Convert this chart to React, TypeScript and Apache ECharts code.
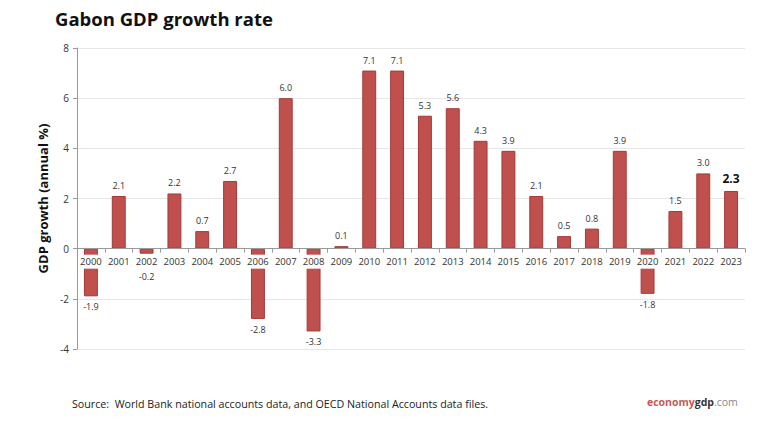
import React, { useEffect, useRef } from "react";
import * as echarts from "echarts";

const years = ["2000","2001","2002","2003","2004","2005","2006","2007","2008","2009","2010","2011","2012","2013","2014","2015","2016","2017","2018","2019","2020","2021","2022","2023"];
const growth = [-1.9, 2.1, -0.2, 2.2, 0.7, 2.7, -2.8, 6.0, -3.3, 0.1, 7.1, 7.1, 5.3, 5.6, 4.3, 3.9, 2.1, 0.5, 0.8, 3.9, -1.8, 1.5, 3.0, 2.3];
const yTicks = { min: -4, max: 8, interval: 2 };
const titleText = "Gabon GDP growth rate";
const yName = "GDP growth (annual %)";
const sourceText = "Source:  World Bank national accounts data, and OECD National Accounts data files.";

export default function App() {
  const ref = useRef<HTMLDivElement>(null);
  useEffect(() => {
    if (!ref.current) return;
    const chart = echarts.init(ref.current, null, { renderer: "svg" });
    const font = "'Open Sans', 'Liberation Sans', sans-serif";
    const gridTop = 48;
    const gridBottom = 73;
    const plotH = 422 - gridTop - gridBottom;
    const zeroOffset = (plotH * (0 - yTicks.min)) / (yTicks.max - yTicks.min);
    const data = growth.map((v, i) => {
      const last = i === growth.length - 1;
      const small = v < 0 && v > -0.5;
      return {
        value: v,
        label: {
          position: v < 0 ? "bottom" : "top",
          distance: small ? 18 : 6,
          fontSize: last ? 12 : 9,
          fontWeight: last ? "bold" : "normal",
          color: last ? "#111" : "#333",
        },
      };
    });
    chart.setOption({
      animation: false,
      backgroundColor: "#fff",
      textStyle: { fontFamily: font },
      grid: { left: 77, right: 23, top: gridTop, bottom: gridBottom },
      xAxis: {
        type: "category",
        data: years,
        z: 3,
        position: "bottom",
        offset: -zeroOffset,
        axisLine: { onZero: false, lineStyle: { color: "#999", width: 1 } },
        axisTick: { show: true, length: 4, interval: 0, lineStyle: { color: "#999" } },
        axisLabel: {
          interval: 0,
          color: "#333",
          fontSize: 9.5,
          fontFamily: font,
          margin: 6,
          backgroundColor: "#fff",
          padding: [2, 1, 2, 1],
        },
      },
      yAxis: {
        type: "value",
        min: yTicks.min,
        max: yTicks.max,
        interval: yTicks.interval,
        name: yName,
        nameLocation: "middle",
        nameGap: 28,
        nameTextStyle: { fontSize: 13, fontWeight: "bold", color: "#111", fontFamily: font },
        axisLine: { show: true, lineStyle: { color: "#999" } },
        axisTick: { show: true, length: 4, lineStyle: { color: "#999" } },
        axisLabel: { color: "#333", fontSize: 10, margin: 8 },
        splitLine: { lineStyle: { color: "#e6e6e6" } },
      },
      series: [
        {
          type: "bar",
          data,
          barWidth: "50%",
          itemStyle: { color: "#c0504d", borderColor: "#a33a37", borderWidth: 1 },
          label: {
            show: true,
            formatter: (p: any) => Number(p.value).toFixed(1),
          },
        },
      ],
      graphic: [
        {
          type: "text",
          left: 55,
          top: 9,
          style: { text: titleText, fontSize: 18.5, fontWeight: "bold", fill: "#111", fontFamily: font },
        },
        {
          type: "text",
          left: 72,
          top: 398,
          style: { text: sourceText, fontSize: 10.7, fill: "#222", fontFamily: font },
        },
        {
          type: "text",
          left: 647,
          top: 396,
          style: {
            text: "{a|economy}{b|gdp}{c|.com}",
            fontFamily: font,
            rich: {
              a: { fontSize: 10.5, fill: "#c55a57", fontFamily: font, fontWeight: "bold" },
              b: { fontSize: 10.5, fill: "#333", fontFamily: font, fontWeight: "bold" },
              c: { fontSize: 10.5, fill: "#888", fontFamily: font },
            },
          },
        },
      ],
    });
    return () => chart.dispose();
  }, []);
  return <div ref={ref} style={{ width: 768, height: 422, margin: -8 }} />;
}
